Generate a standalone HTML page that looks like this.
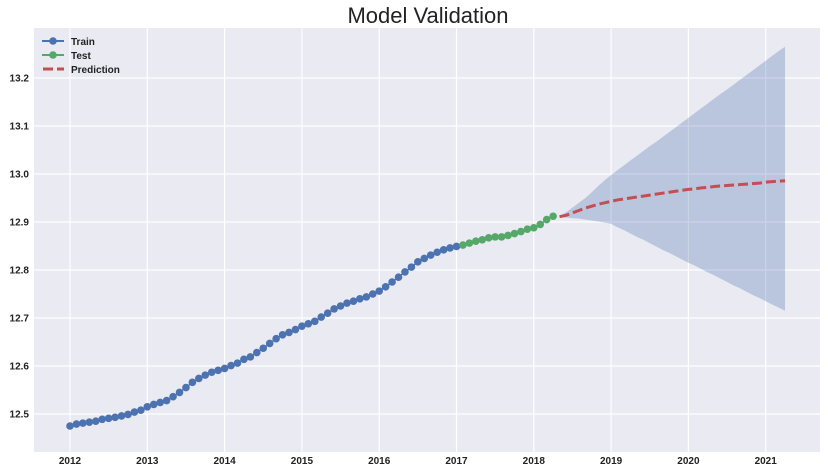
<!DOCTYPE html>
<html><head><meta charset="utf-8"><style>
body{margin:0;background:#fff;}
svg{display:block;font-family:"Liberation Sans",sans-serif;}
</style></head><body>
<svg id="chart" width="828" height="468" viewBox="0 0 828 468">
<text x="428" y="23" font-size="22" text-anchor="middle" fill="#222">Model Validation</text>
<rect x="34" y="28" width="786" height="424" fill="#eaeaf2"/>
<g id="grid"></g>
<g id="ticks"></g>
<g id="marks"></g>
<g>
<g><line x1="42" y1="41" x2="64" y2="41" stroke="#4c72b0" stroke-width="2"/><circle cx="53" cy="41" r="3.8" fill="#4c72b0"/><text x="71" y="45" font-size="10" font-weight="bold" fill="#222">Train</text></g>
<g><line x1="42" y1="55" x2="64" y2="55" stroke="#55a868" stroke-width="2"/><circle cx="53" cy="55" r="3.8" fill="#55a868"/><text x="71" y="59" font-size="10" font-weight="bold" fill="#222">Test</text></g>
<g><line x1="43" y1="69" x2="64" y2="69" stroke="#c44e52" stroke-width="3" stroke-dasharray="10,4"/><text x="71" y="73" font-size="10" font-weight="bold" fill="#222">Prediction</text></g>
</g>
</svg>
<script>
const trainValues=[12.475,12.479,12.481,12.483,12.485,12.489,12.491,12.493,12.496,12.499,12.504,12.508,
12.515,12.520,12.524,12.528,12.536,12.545,12.555,12.566,12.574,12.581,12.587,12.591,
12.595,12.601,12.606,12.614,12.619,12.628,12.637,12.647,12.657,12.665,12.670,12.676,
12.683,12.688,12.693,12.702,12.710,12.719,12.725,12.731,12.735,12.740,12.744,12.750,
12.756,12.765,12.775,12.785,12.796,12.806,12.817,12.824,12.831,12.837,12.842,12.846,12.849];
const trainStart=[2012,1];
const testValues=[12.852,12.856,12.860,12.863,12.867,12.869,12.869,12.872,12.876,12.880,12.885,12.888,12.895,12.905,12.912];
const testStart=[2017,2];
const predMean=[12.911,12.914,12.919,12.924,12.929,12.933,12.937,12.940,
12.943,12.946,12.948,12.950,12.952,12.954,12.956,12.958,12.960,12.962,12.964,12.966,
12.968,12.969,12.971,12.972,12.974,12.975,12.976,12.977,12.978,12.979,12.980,12.981,
12.983,12.984,12.985,12.986];
const predUpper=[12.913,12.920,12.930,12.940,12.950,12.962,12.975,12.987,
12.998,13.008,13.018,13.028,13.038,13.048,13.058,13.067,13.077,13.087,13.097,13.107,
13.117,13.127,13.137,13.147,13.157,13.167,13.176,13.186,13.196,13.206,13.216,13.226,
13.236,13.246,13.256,13.265];
const predLower=[12.910,12.909,12.908,12.907,12.905,12.903,12.901,12.899,
12.896,12.889,12.883,12.876,12.869,12.863,12.856,12.849,12.842,12.836,12.829,12.822,
12.815,12.809,12.802,12.795,12.789,12.782,12.775,12.768,12.762,12.755,12.748,12.742,
12.735,12.728,12.722,12.715];
const predStart=[2018,5];
const xTicks=[2012,2013,2014,2015,2016,2017,2018,2019,2020,2021];
const yTicks=[12.5,12.6,12.7,12.8,12.9,13.0,13.1,13.2];

const NS="http://www.w3.org/2000/svg";
function X(t){return 70+(t-2012)*77.3;}
function Y(v){return 414-(v-12.5)*480;}
function tOf(start,i){return start[0]+(start[1]-1+i)/12;}
function mk(tag,attrs,parent){const e=document.createElementNS(NS,tag);for(const k in attrs)e.setAttribute(k,attrs[k]);parent.appendChild(e);return e;}
const grid=document.getElementById('grid'),ticks=document.getElementById('ticks'),marks=document.getElementById('marks');
xTicks.forEach(t=>{
  const l=mk('line',{x1:X(t),x2:X(t),y1:28,y2:452,stroke:'#fff','stroke-width':1.2},grid);
  
  
  const tx=mk('text',{x:X(t),y:464,'font-size':10,'font-weight':'bold','text-anchor':'middle',fill:'#222'},ticks);
  tx.textContent=t;
  
  
});
yTicks.forEach(v=>{
  const l=mk('line',{x1:34,x2:820,y1:Y(v),y2:Y(v),stroke:'#fff','stroke-width':1.2},grid);
  
  
  const tx=mk('text',{x:29,y:Y(v)+3.5,'font-size':10,'font-weight':'bold','text-anchor':'end',fill:'#222'},ticks);
  tx.textContent=v.toFixed(1);
  
  
});
// confidence band
let d='';
predUpper.forEach((v,i)=>{d+=(i?'L':'M')+X(tOf(predStart,i))+','+Y(v);});
for(let i=predLower.length-1;i>=0;i--){d+='L'+X(tOf(predStart,i))+','+Y(predLower[i]);}
const band=mk('path',{d:d+'Z',fill:'#4c72b0','fill-opacity':0.3},marks);


function series(vals,start,color,name){
  const pts=vals.map((v,i)=>X(tOf(start,i))+','+Y(v)).join(' ');
  const pl=mk('polyline',{points:pts,fill:'none',stroke:color,'stroke-width':1.5},marks);
  
  
  vals.forEach((v,i)=>{
    const c=mk('circle',{cx:X(tOf(start,i)),cy:Y(v),r:3.8,fill:color},marks);
    
    
  });
}
series(trainValues,trainStart,'#4c72b0','train');
series(testValues,testStart,'#55a868','test');
const pp=predMean.map((v,i)=>X(tOf(predStart,i))+','+Y(v)).join(' ');
const pl=mk('polyline',{points:pp,fill:'none',stroke:'#c44e52','stroke-width':3,'stroke-dasharray':'10,4'},marks);


</script>
</body></html>
